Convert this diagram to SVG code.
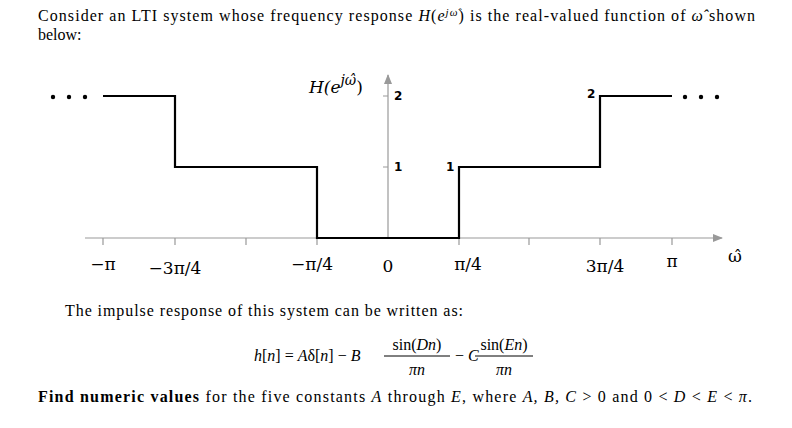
<svg xmlns="http://www.w3.org/2000/svg" width="792" height="428" viewBox="0 0 792 428">
<style>
.t{font-family:"Liberation Serif","DejaVu Serif",serif;font-size:16px;fill:#000}
.m{font-family:"DejaVu Serif","Liberation Serif",serif;font-size:17px;fill:#000}
.ax{stroke:#999;stroke-width:1.2;fill:none}
.pl{stroke:#000;stroke-width:2.2;fill:none}
.s{font-family:"DejaVu Sans",sans-serif;font-size:12px;font-weight:bold}
</style>
<defs><marker id="ar" markerWidth="10" markerHeight="8" refX="9" refY="4" orient="auto" markerUnits="userSpaceOnUse"><path d="M0,0L10,4L0,8z" fill="#999"/></marker></defs>
<rect width="792" height="428" fill="#fff"/>
<text class="t" x="38" y="21" textLength="717" lengthAdjust="spacing">Consider an LTI system whose frequency response <tspan font-style="italic">H</tspan>(<tspan font-style="italic">e<tspan dy="-5" font-size="11">jω̂</tspan></tspan><tspan dy="5">) is the real-valued function of </tspan><tspan font-style="italic">ω̂ </tspan> shown</text>
<text class="t" x="38" y="40">below:</text>
<g id="axes">
<line class="ax" x1="85" y1="238" x2="722" y2="238" marker-end="url(#ar)"/>
<line class="ax" x1="388" y1="238" x2="388" y2="75" marker-end="url(#ar)"/>
<path class="ax" d="M103,238v7M175,238v7M246,238v7M317,238v7M459,238v7M529,238v7M600,238v7M672,238v7M383,96h5M383,167h5"/>
</g>
<g id="plot">
<path class="pl" d="M103,96H175V167H317V238H459V167H600V96H672"/>
<g fill="#000"><circle cx="53" cy="97" r="2.2"/><circle cx="69" cy="97" r="2.2"/><circle cx="85" cy="97" r="2.2"/><circle cx="685" cy="97" r="2.2"/><circle cx="701" cy="97" r="2.2"/><circle cx="717" cy="97" r="2.2"/></g>
</g>
<g id="labels">
<text class="m" x="309" y="93" font-style="italic" font-size="20">H(e<tspan dy="-8" font-size="14">jω̂</tspan><tspan dy="8" font-style="normal">)</tspan></text>
<text class="s" x="394" y="100">2</text>
<text class="s" x="394" y="171">1</text>
<text class="s" x="446" y="171">1</text>
<text class="s" x="587" y="98">2</text>
<g class="m" text-anchor="middle">
<text x="103" y="270">−π</text><text x="175" y="274">−3π/4</text><text x="312" y="270">−π/4</text><text x="388" y="272">0</text><text x="468" y="270">π/4</text><text x="605" y="272">3π/4</text><text x="672" y="267">π</text><text x="735" y="262">ω̂</text>
</g>
</g>
<text class="t" x="65" y="316" textLength="398" lengthAdjust="spacing">The impulse response of this system can be written as:</text>
<g class="t" font-size="17">
<text x="254" y="361"><tspan font-style="italic">h</tspan>[<tspan font-style="italic">n</tspan>] = <tspan font-style="italic">A</tspan>δ[<tspan font-style="italic">n</tspan>] − <tspan font-style="italic">B</tspan></text>
<text x="417" y="350" text-anchor="middle">sin(<tspan font-style="italic">Dn</tspan>)</text>
<line x1="384" y1="356" x2="450" y2="356" stroke="#000"/>
<text x="417" y="375" text-anchor="middle" font-style="italic">πn</text>
<text x="455" y="361">− <tspan font-style="italic">C</tspan></text>
<text x="504" y="350" text-anchor="middle">sin(<tspan font-style="italic">En</tspan>)</text>
<line x1="475" y1="356" x2="533" y2="356" stroke="#000"/>
<text x="504" y="375" text-anchor="middle" font-style="italic">πn</text>
</g>
<text class="t" x="38" y="402" textLength="714" lengthAdjust="spacing"><tspan font-weight="bold">Find numeric values</tspan> for the five constants <tspan font-style="italic">A</tspan> through <tspan font-style="italic">E</tspan>, where <tspan font-style="italic">A, B, C</tspan> &gt; 0 and 0 &lt; <tspan font-style="italic">D</tspan> &lt; <tspan font-style="italic">E</tspan> &lt; <tspan font-style="italic">π</tspan>.</text>
</svg>
